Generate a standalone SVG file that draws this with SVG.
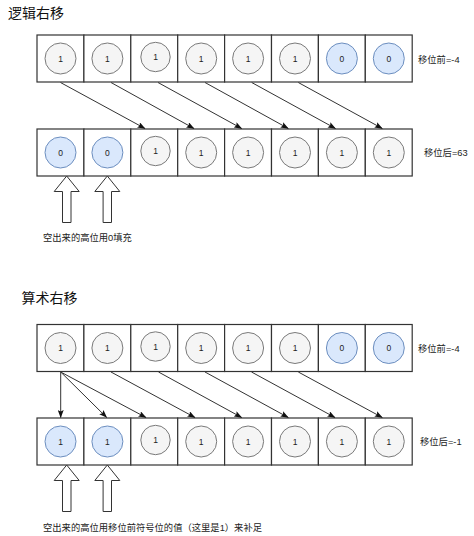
<svg xmlns="http://www.w3.org/2000/svg" width="474" height="536" viewBox="0 0 474 536">
<defs>
<style>
.bg{fill:#ffffff}
.box{fill:#ffffff;stroke:#333333;stroke-width:1.2}
.cg{fill:#f5f5f5;stroke:#7a7a7a;stroke-width:1}
.cb{fill:#dae8fc;stroke:#6c8ebf;stroke-width:1}
.d{font-family:"Liberation Sans",Arial,sans-serif;font-size:8.5px;fill:#222;text-anchor:middle;dominant-baseline:central}
.lbl{font-family:"Liberation Sans","Noto Sans CJK SC",sans-serif;font-size:9.3px;fill:#222;dominant-baseline:central}
.title{font-family:"Noto Sans CJK SC","Liberation Sans",sans-serif;font-size:14px;fill:#111}
.con{fill:none;stroke:#333333;stroke-width:1;marker-end:url(#ah)}
.hollow{fill:#ffffff;stroke:#333333;stroke-width:1}
</style>
<marker id="ah" viewBox="0 0 8 6" refX="7.5" refY="3" markerWidth="8" markerHeight="6" markerUnits="userSpaceOnUse" orient="auto">
<path d="M0,0 L8,3 L0,6 L1.5,3 Z" fill="#111"/>
</marker>
</defs>
<rect class="bg" x="0" y="0" width="474" height="536"/>

<text class="title" x="8" y="18">逻辑右移</text>
<text class="title" x="21.5" y="303">算术右移</text>

<!-- Row 1 -->
<g id="row1">
<rect class="box" x="37" y="35" width="46.9" height="47"/>
<rect class="box" x="83.9" y="35" width="46.9" height="47"/>
<rect class="box" x="130.8" y="35" width="46.9" height="47"/>
<rect class="box" x="177.7" y="35" width="46.9" height="47"/>
<rect class="box" x="224.6" y="35" width="46.9" height="47"/>
<rect class="box" x="271.5" y="35" width="46.9" height="47"/>
<rect class="box" x="318.4" y="35" width="46.9" height="47"/>
<rect class="box" x="365.3" y="35" width="46.9" height="47"/>
<circle class="cg" cx="60.5" cy="58.5" r="15.5"/><text class="d" x="60.5" y="58.5">1</text>
<circle class="cg" cx="107.4" cy="58.5" r="15.5"/><text class="d" x="107.4" y="58.5">1</text>
<circle class="cg" cx="155.5" cy="57" r="14.7"/><text class="d" x="155.5" y="57">1</text>
<circle class="cg" cx="201.2" cy="58.5" r="15.5"/><text class="d" x="201.2" y="58.5">1</text>
<circle class="cg" cx="248.1" cy="58.5" r="15.5"/><text class="d" x="248.1" y="58.5">1</text>
<circle class="cg" cx="295" cy="58.5" r="15.5"/><text class="d" x="295" y="58.5">1</text>
<circle class="cb" cx="341.9" cy="58.5" r="15.5"/><text class="d" x="341.9" y="58.5">0</text>
<circle class="cb" cx="388.8" cy="58.5" r="15.5"/><text class="d" x="388.8" y="58.5">0</text>
</g>
<g id="label1"><text class="lbl" x="418" y="60">移位前=-4</text></g>

<!-- Row 2 -->
<g id="row2">
<rect class="box" x="37" y="129" width="46.9" height="47"/>
<rect class="box" x="83.9" y="129" width="46.9" height="47"/>
<rect class="box" x="130.8" y="129" width="46.9" height="47"/>
<rect class="box" x="177.7" y="129" width="46.9" height="47"/>
<rect class="box" x="224.6" y="129" width="46.9" height="47"/>
<rect class="box" x="271.5" y="129" width="46.9" height="47"/>
<rect class="box" x="318.4" y="129" width="46.9" height="47"/>
<rect class="box" x="365.3" y="129" width="46.9" height="47"/>
<circle class="cb" cx="60.5" cy="152.5" r="15.5"/><text class="d" x="60.5" y="152.5">0</text>
<circle class="cb" cx="107.4" cy="152.5" r="15.5"/><text class="d" x="107.4" y="152.5">0</text>
<circle class="cg" cx="155.5" cy="151" r="14.7"/><text class="d" x="155.5" y="151">1</text>
<circle class="cg" cx="201.2" cy="152.5" r="15.5"/><text class="d" x="201.2" y="152.5">1</text>
<circle class="cg" cx="248.1" cy="152.5" r="15.5"/><text class="d" x="248.1" y="152.5">1</text>
<circle class="cg" cx="295" cy="152.5" r="15.5"/><text class="d" x="295" y="152.5">1</text>
<circle class="cg" cx="341.9" cy="152.5" r="15.5"/><text class="d" x="341.9" y="152.5">1</text>
<circle class="cg" cx="388.8" cy="152.5" r="15.5"/><text class="d" x="388.8" y="152.5">1</text>
</g>
<g id="label2"><text class="lbl" x="424" y="153">移位后=63</text></g>

<g id="hollow1">
<path class="hollow" d="M66.7,176 L79.2,191.5 L71,191.5 L71,222.5 L62.5,222.5 L62.5,191.5 L54.2,191.5 Z"/>
<path class="hollow" d="M107.3,176 L119.8,191.5 L111.5,191.5 L111.5,222.5 L103.1,222.5 L103.1,191.5 L94.8,191.5 Z"/>
</g>
<g id="caption1"><text class="lbl" x="43" y="238">空出来的高位用0填充</text></g>

<!-- Row 3 -->
<g id="row3">
<rect class="box" x="37" y="324.5" width="46.9" height="47"/>
<rect class="box" x="83.9" y="324.5" width="46.9" height="47"/>
<rect class="box" x="130.8" y="324.5" width="46.9" height="47"/>
<rect class="box" x="177.7" y="324.5" width="46.9" height="47"/>
<rect class="box" x="224.6" y="324.5" width="46.9" height="47"/>
<rect class="box" x="271.5" y="324.5" width="46.9" height="47"/>
<rect class="box" x="318.4" y="324.5" width="46.9" height="47"/>
<rect class="box" x="365.3" y="324.5" width="46.9" height="47"/>
<circle class="cg" cx="60.5" cy="348" r="15.5"/><text class="d" x="60.5" y="348">1</text>
<circle class="cg" cx="107.4" cy="348" r="15.5"/><text class="d" x="107.4" y="348">1</text>
<circle class="cg" cx="155.5" cy="346.5" r="14.7"/><text class="d" x="155.5" y="346.5">1</text>
<circle class="cg" cx="201.2" cy="348" r="15.5"/><text class="d" x="201.2" y="348">1</text>
<circle class="cg" cx="248.1" cy="348" r="15.5"/><text class="d" x="248.1" y="348">1</text>
<circle class="cg" cx="295" cy="348" r="15.5"/><text class="d" x="295" y="348">1</text>
<circle class="cb" cx="341.9" cy="348" r="15.5"/><text class="d" x="341.9" y="348">0</text>
<circle class="cb" cx="388.8" cy="348" r="15.5"/><text class="d" x="388.8" y="348">0</text>
</g>
<g id="label3"><text class="lbl" x="418" y="348.5">移位前=-4</text></g>

<!-- Row 4 -->
<g id="row4">
<rect class="box" x="37" y="418" width="46.9" height="47"/>
<rect class="box" x="83.9" y="418" width="46.9" height="47"/>
<rect class="box" x="130.8" y="418" width="46.9" height="47"/>
<rect class="box" x="177.7" y="418" width="46.9" height="47"/>
<rect class="box" x="224.6" y="418" width="46.9" height="47"/>
<rect class="box" x="271.5" y="418" width="46.9" height="47"/>
<rect class="box" x="318.4" y="418" width="46.9" height="47"/>
<rect class="box" x="365.3" y="418" width="46.9" height="47"/>
<circle class="cb" cx="60.5" cy="441.5" r="15.5"/><text class="d" x="60.5" y="441.5">1</text>
<circle class="cb" cx="107.4" cy="441.5" r="15.5"/><text class="d" x="107.4" y="441.5">1</text>
<circle class="cg" cx="155.5" cy="440" r="14.7"/><text class="d" x="155.5" y="440">1</text>
<circle class="cg" cx="201.2" cy="441.5" r="15.5"/><text class="d" x="201.2" y="441.5">1</text>
<circle class="cg" cx="248.1" cy="441.5" r="15.5"/><text class="d" x="248.1" y="441.5">1</text>
<circle class="cg" cx="295" cy="441.5" r="15.5"/><text class="d" x="295" y="441.5">1</text>
<circle class="cg" cx="341.9" cy="441.5" r="15.5"/><text class="d" x="341.9" y="441.5">1</text>
<circle class="cg" cx="388.8" cy="441.5" r="15.5"/><text class="d" x="388.8" y="441.5">1</text>
</g>
<g id="label4"><text class="lbl" x="420" y="442">移位后=-1</text></g>

<g id="hollow2">
<path class="hollow" d="M66.7,465 L79.2,480.5 L71,480.5 L71,511.5 L62.5,511.5 L62.5,480.5 L54.2,480.5 Z"/>
<path class="hollow" d="M107.3,465 L119.8,480.5 L111.5,480.5 L111.5,511.5 L103.1,511.5 L103.1,480.5 L94.8,480.5 Z"/>
</g>
<g id="caption2"><text class="lbl" x="43" y="527.5">空出来的高位用移位前符号位的值（这里是1）来补足</text></g>

<g id="connectors">
<line class="con" x1="60.5" y1="82.5" x2="145" y2="128.5"/>
<line class="con" x1="111" y1="82.5" x2="194" y2="128.5"/>
<line class="con" x1="158" y1="82.5" x2="241.7" y2="128.5"/>
<line class="con" x1="205" y1="82.5" x2="288.3" y2="128.5"/>
<line class="con" x1="251.7" y1="82.5" x2="335.5" y2="128.5"/>
<line class="con" x1="298.3" y1="82.5" x2="382.3" y2="128.5"/>

<line class="con" x1="60.7" y1="372" x2="60.7" y2="417.5"/>
<line class="con" x1="60.7" y1="372" x2="106.7" y2="417.5"/>
<line class="con" x1="60.7" y1="372" x2="146" y2="417.5"/>
<line class="con" x1="111" y1="372" x2="195" y2="417.5"/>
<line class="con" x1="158.5" y1="372" x2="241.7" y2="417.5"/>
<line class="con" x1="205" y1="372" x2="288.3" y2="417.5"/>
<line class="con" x1="251.5" y1="372" x2="335" y2="417.5"/>
<line class="con" x1="298.3" y1="372" x2="382.3" y2="417.5"/>
</g>
</svg>
